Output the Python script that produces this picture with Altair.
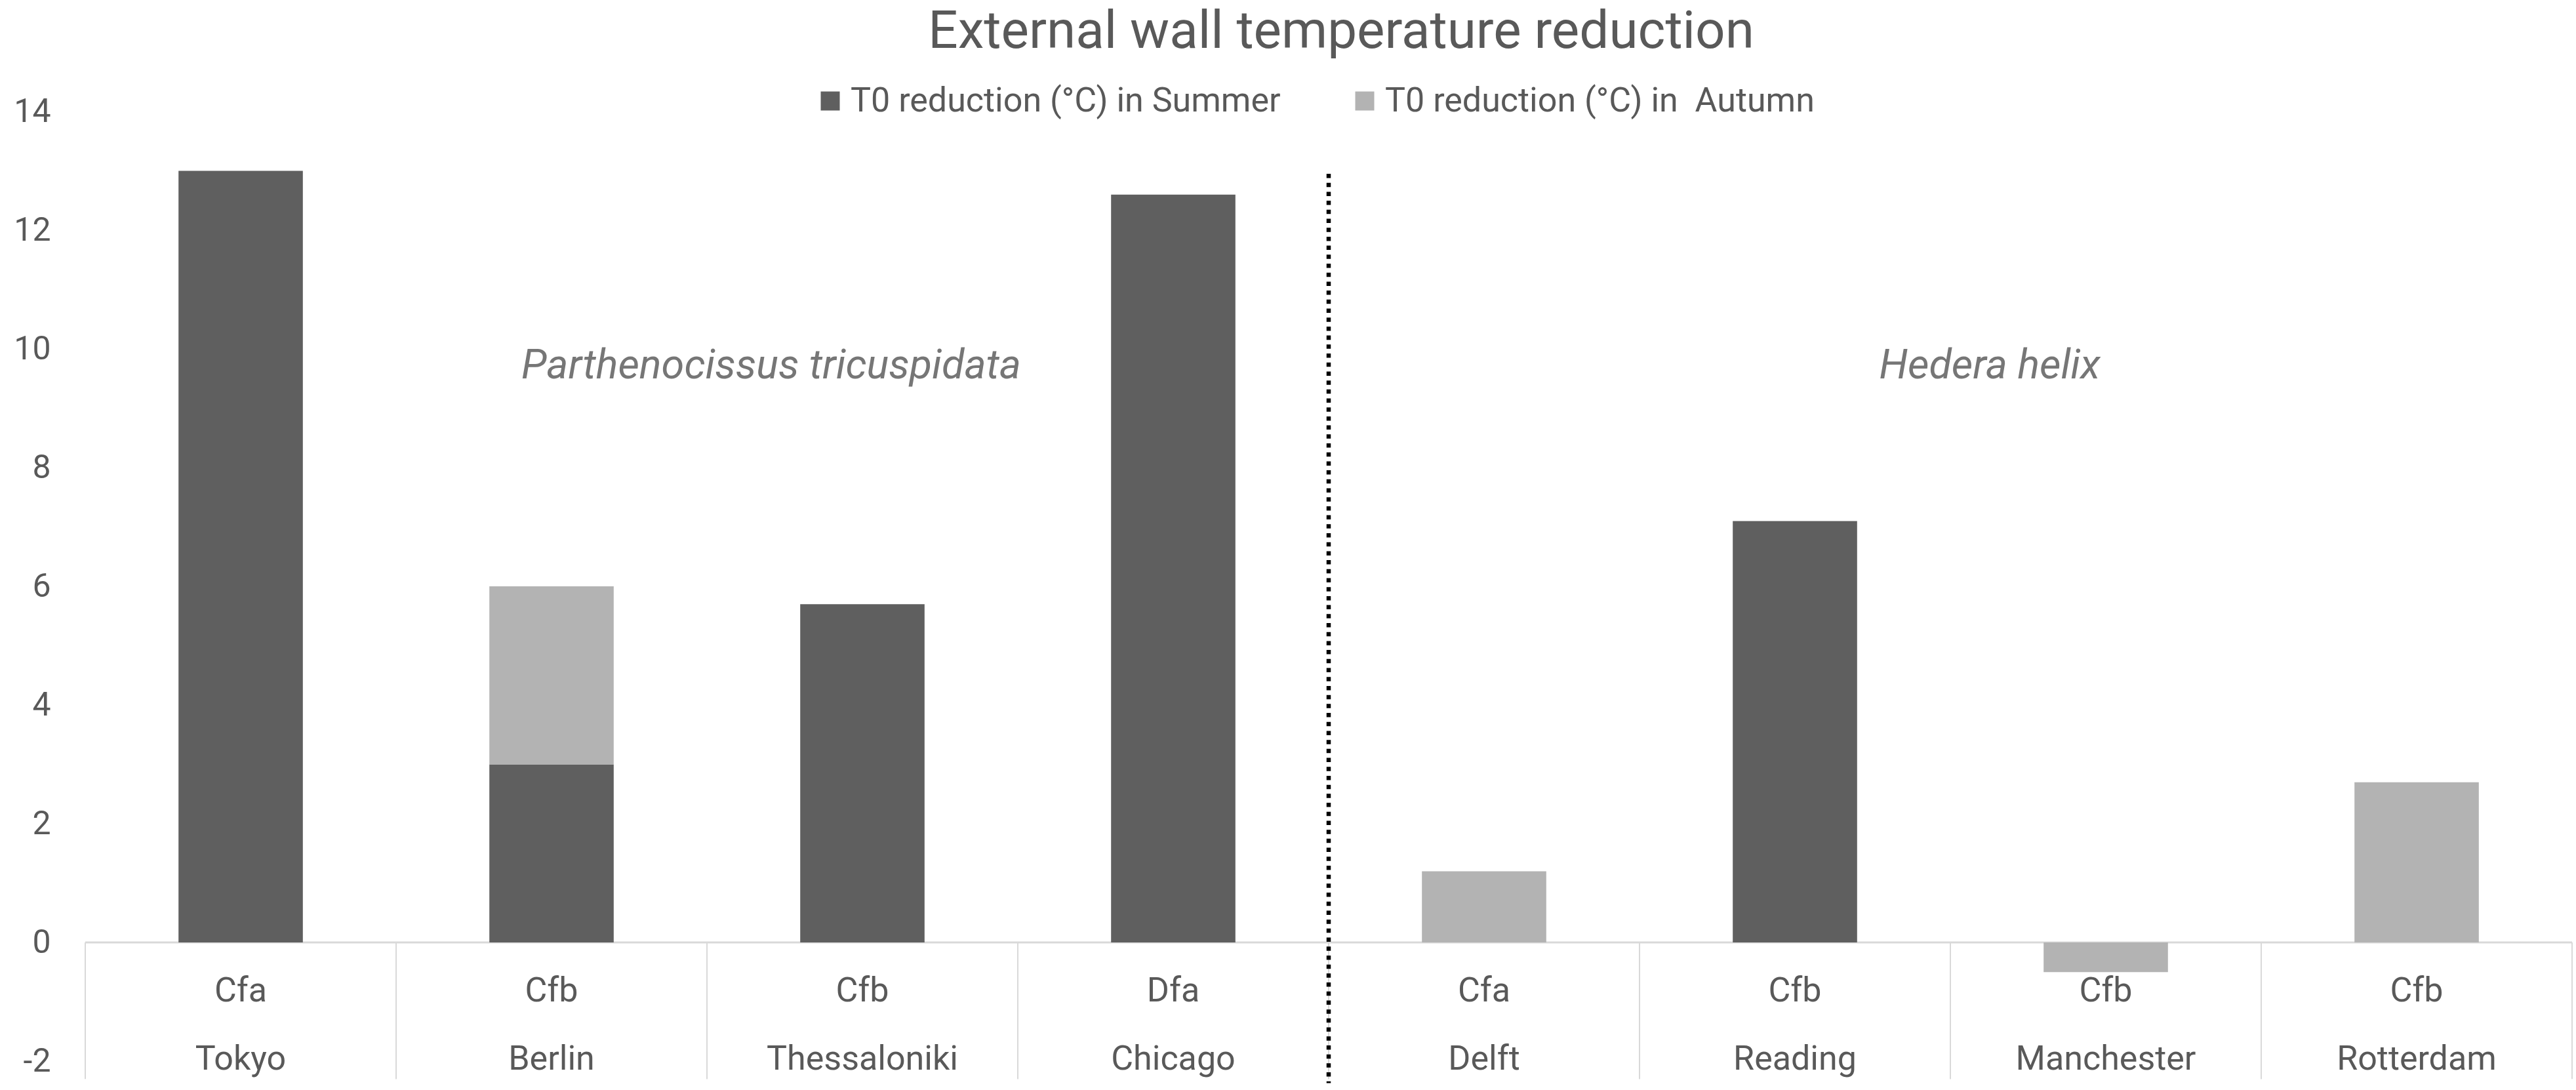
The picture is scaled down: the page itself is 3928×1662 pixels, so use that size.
import altair as alt
import pandas as pd

# Site data: city, Köppen climate class and T0 reduction per season
cities = ["Tokyo", "Berlin", "Thessaloniki", "Chicago", "Delft", "Reading", "Manchester", "Rotterdam"]
climates = ["Cfa", "Cfb", "Cfb", "Dfa", "Cfa", "Cfb", "Cfb", "Cfb"]
summer = [13.0, 3.0, 5.7, 12.6, None, 7.1, None, None]
autumn = [None, 3.0, None, None, 1.2, None, -0.5, 2.7]

# the non-breaking space keeps the double gap visible in SVG
series = ["T0 reduction (°C) in Summer", "T0 reduction (°C) in \u00a0Autumn"]
series_colors = ["#5f5f5f", "#b3b3b3"]
y_ticks = [-2, 0, 2, 4, 6, 8, 10, 12, 14]
species = ["Parthenocissus tricuspidata", "Hedera helix"]

FONT = "Roboto"
TEXT = "#595959"
W, H = 3792, 1448

rows = []
for i, city in enumerate(cities):
    for k, vals in enumerate([summer, autumn]):
        if vals[i] is not None:
            rows.append({"city": city, "series": series[k], "rank": k, "value": vals[i]})
bar_df = pd.DataFrame(rows)
cat_df = pd.DataFrame({"city": cities, "climate": climates})

xscale = alt.Scale(domain=cities, paddingInner=0, paddingOuter=0)
yscale = alt.Scale(domain=[-2, 14], nice=False, zero=False)

bars = alt.Chart(bar_df).mark_bar(width=alt.RelativeBandSize(0.4)).encode(
    x=alt.X("city:N", scale=xscale, axis=None),
    y=alt.Y(
        "value:Q",
        scale=yscale,
        stack="zero",
        title=None,
        axis=alt.Axis(
            values=y_ticks, ticks=False, domain=False, grid=False,
            labelFontSize=50, labelFont=FONT, labelColor=TEXT, labelPadding=53,
            labelExpr="datum.value + ''",
        ),
    ),
    color=alt.Color(
        "series:N",
        scale=alt.Scale(domain=series, range=series_colors),
        legend=alt.Legend(
            orient="none", legendX=1110, legendY=-42, direction="horizontal",
            title=None, symbolType="square", symbolSize=841, symbolStrokeWidth=0,
            labelFontSize=52, labelFont=FONT, labelColor=TEXT, labelOffset=5,
            columnPadding=102, padding=0, labelLimit=2000,
        ),
    ),
    order=alt.Order("rank:Q"),
)

# category table below the zero line
sep_left = alt.Chart(cat_df).mark_rule(color="#d9d9d9", strokeWidth=2).encode(
    x=alt.X("city:N", scale=xscale, axis=None, bandPosition=0),
    y=alt.datum(0), y2=alt.datum(-2.3),
)
sep_right = alt.Chart(cat_df).mark_rule(color="#d9d9d9", strokeWidth=2).encode(
    x=alt.X("city:N", scale=xscale, axis=None, bandPosition=1),
    y=alt.datum(0), y2=alt.datum(-2.3),
)
zero_line = alt.Chart(pd.DataFrame({"v": [0]})).mark_rule(color="#d9d9d9", strokeWidth=3).encode(
    y=alt.Y("v:Q", scale=yscale), x=alt.value(0), x2=alt.value(W),
)
climate_text = alt.Chart(cat_df).mark_text(
    fontSize=52, font=FONT, color=TEXT, baseline="middle"
).encode(x=alt.X("city:N", scale=xscale, axis=None), y=alt.datum(-0.82), text="climate:N")
city_text = alt.Chart(cat_df).mark_text(
    fontSize=52, font=FONT, color=TEXT, baseline="middle"
).encode(x=alt.X("city:N", scale=xscale, axis=None), y=alt.datum(-1.97), text="city:N")

# divider between the two climbing species
divider = alt.Chart(pd.DataFrame({"city": ["Delft"]})).mark_rule(
    color="black", strokeWidth=6.5, strokeDash=[6.5, 7.2]
).encode(
    x=alt.X("city:N", scale=xscale, axis=None, bandPosition=0),
    y=alt.datum(12.95), y2=alt.datum(-2.37),
)

species_a = alt.Chart(pd.DataFrame({"t": [species[0]]})).mark_text(
    fontSize=63, font=FONT, fontStyle="italic", color="#767676", baseline="alphabetic"
).encode(x=alt.value(1046), y=alt.datum(9.5), text="t:N")
species_b = alt.Chart(pd.DataFrame({"t": [species[1]]})).mark_text(
    fontSize=63, font=FONT, fontStyle="italic", color="#767676", baseline="alphabetic"
).encode(x=alt.value(2904), y=alt.datum(9.5), text="t:N")

chart = alt.layer(
    zero_line, sep_left, sep_right, bars, climate_text, city_text, divider, species_a, species_b
).properties(
    width=W,
    height=H,
    title=alt.TitleParams(
        text="External wall temperature reduction", fontSize=80, font=FONT, color=TEXT,
        fontWeight="normal", anchor="middle", frame="group", dx=19, offset=-25,
        baseline="alphabetic",
    ),
    autosize=alt.AutoSizeParams(type="none"),
    padding={"left": 130, "top": 170, "right": 6, "bottom": 44},
    background="white",
).configure_view(stroke=None)

chart.save("out.html", embed_options={"renderer": "svg", "actions": False})
